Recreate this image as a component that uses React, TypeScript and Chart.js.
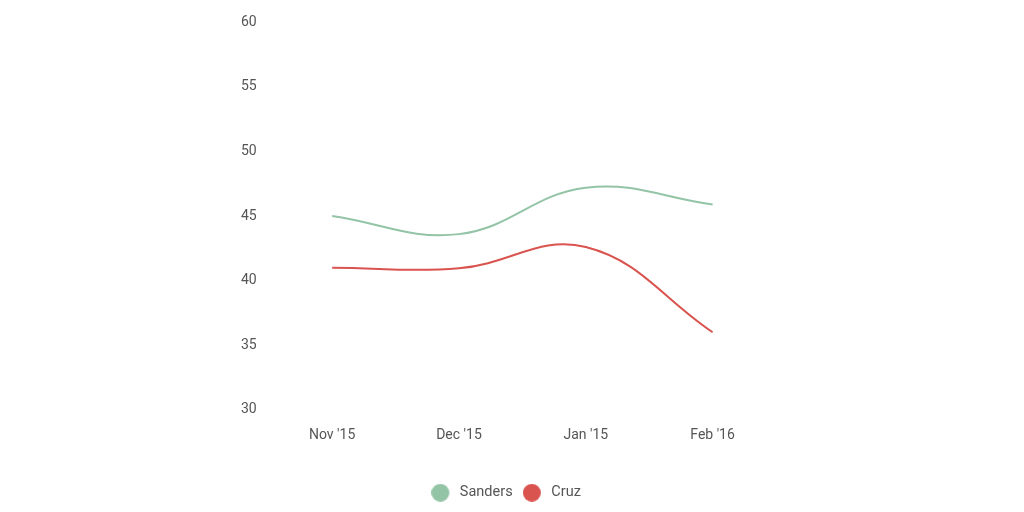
import React, { useEffect, useRef } from "react";
import { Chart, registerables } from "chart.js";

Chart.register(...registerables);

const categories = ["Nov '15", "Dec '15", "Jan '15", "Feb '16"];
const sanders = [45.0, 43.6, 47.2, 45.9];
const cruz = [41.0, 40.95, 42.6, 36.0];
const yTicks = [30, 35, 40, 45, 50, 55, 60];
const seriesColors = ["#93c4a5", "#d9534f"];

function legendDot(color: string): HTMLCanvasElement {
  const c = document.createElement("canvas");
  c.width = 28;
  c.height = 18;
  const ctx = c.getContext("2d")!;
  ctx.fillStyle = color;
  ctx.beginPath();
  ctx.arc(9, 9, 9, 0, Math.PI * 2);
  ctx.fill();
  return c;
}

const legendShift = {
  id: "legendShift",
  afterLayout(chart: any) {
    if (chart.legend) {
      chart.legend.left += 2;
      chart.legend.right += 2;
    }
  },
};

export default function App() {
  const ref = useRef<HTMLCanvasElement | null>(null);
  useEffect(() => {
    if (!ref.current) return;
    const font = { family: "Roboto", size: 14 };
    const chart = new Chart(ref.current, {
      type: "line",
      data: {
        labels: categories,
        datasets: [
          {
            label: "Sanders",
            data: sanders,
            borderColor: seriesColors[0],
            backgroundColor: seriesColors[0],
            borderWidth: 2,
            pointRadius: 0,
            pointHoverRadius: 0,
            pointStyle: legendDot(seriesColors[0]) as any,
            tension: 0.4,
            fill: false,
          },
          {
            label: "Cruz",
            data: cruz,
            borderColor: seriesColors[1],
            backgroundColor: seriesColors[1],
            borderWidth: 2,
            pointRadius: 0,
            pointHoverRadius: 0,
            pointStyle: legendDot(seriesColors[1]) as any,
            tension: 0.4,
            fill: false,
          },
        ],
      },
      plugins: [legendShift],
      options: {
        animation: false,
        responsive: false,
        events: [],
        layout: { padding: { left: 231, right: 240, top: 0, bottom: 0 } },
        plugins: {
          tooltip: { enabled: false },
          legend: {
            position: "bottom",
            labels: {
              usePointStyle: true,
              color: "#555",
              font: { family: "Roboto", size: 14.5 },
              padding: 17,
            },
          },
        },
        scales: {
          x: {
            offset: true,
            grid: { display: false, drawTicks: false },
            border: { display: false },
            ticks: { color: "#555", font, padding: 17 },
            afterFit: (axis: any) => {
              axis.height += 8;
            },
          },
          y: {
            min: 30,
            max: 60,
            afterBuildTicks: (axis: any) => {
              axis.ticks = yTicks.map((v) => ({ value: v }));
            },
            afterFit: (axis: any) => {
              axis.width -= 10;
              axis.paddingTop = Math.max(0, axis.paddingTop - 6);
            },
            grid: { display: false, drawTicks: false },
            border: { display: false },
            ticks: { color: "#555", font, padding: 12 },
          },
        },
      },
    });
    return () => chart.destroy();
  }, []);
  return <canvas ref={ref} width={1008} height={502} style={{ display: "block" }} />;
}
